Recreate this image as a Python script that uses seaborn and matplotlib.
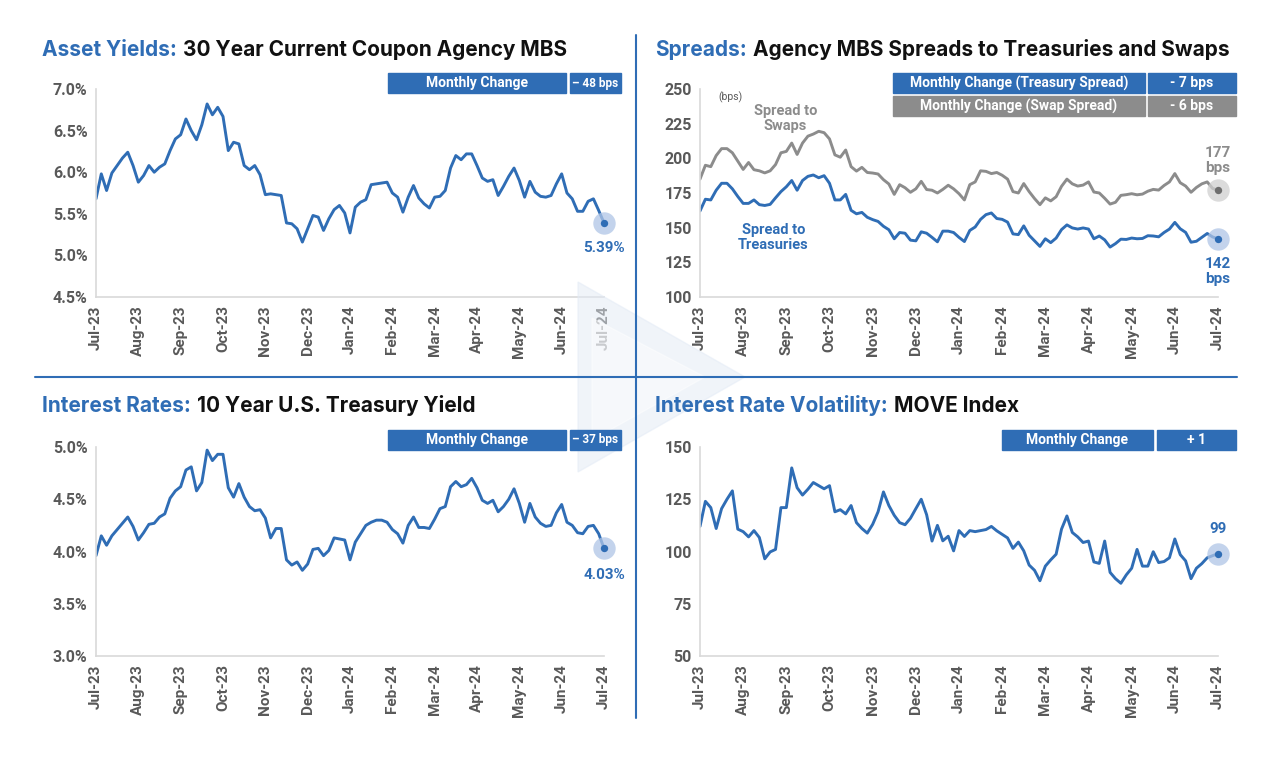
import numpy as np
import seaborn as sns
import matplotlib.pyplot as plt
from matplotlib.patches import Rectangle, Polygon

# month tick labels (8 readings per month)
months = ['Jul-23', 'Aug-23', 'Sep-23', 'Oct-23', 'Nov-23', 'Dec-23', 'Jan-24',
          'Feb-24', 'Mar-24', 'Apr-24', 'May-24', 'Jun-24', 'Jul-24']

mbs_yield = [5.68, 5.98, 5.78, 5.99, 6.08, 6.17, 6.24, 6.08,
             5.88, 5.96, 6.08, 6.00, 6.06, 6.10, 6.26, 6.40,
             6.45, 6.64, 6.50, 6.39, 6.57, 6.82, 6.69, 6.78,
             6.67, 6.26, 6.36, 6.34, 6.08, 6.03, 6.08, 5.97,
             5.73, 5.74, 5.73, 5.72, 5.39, 5.38, 5.32, 5.16,
             5.32, 5.48, 5.46, 5.30, 5.44, 5.55, 5.60, 5.51,
             5.27, 5.58, 5.64, 5.67, 5.85, 5.86, 5.87, 5.88,
             5.75, 5.70, 5.52, 5.70, 5.84, 5.69, 5.62, 5.57,
             5.70, 5.71, 5.78, 6.05, 6.20, 6.15, 6.22, 6.22,
             6.08, 5.93, 5.89, 5.91, 5.72, 5.83, 5.95, 6.05,
             5.90, 5.70, 5.89, 5.76, 5.71, 5.70, 5.72, 5.86,
             5.98, 5.75, 5.68, 5.53, 5.53, 5.65, 5.68, 5.54,
             5.39]

ust_spread = [162, 170.5, 170, 177, 182, 182, 178, 172.5,
              167.5, 167.5, 170, 166.6, 166, 166.8, 171.5, 176,
              179.5, 184, 177, 184, 187, 188, 186, 187.5,
              182, 170, 170, 174, 162.5, 160, 161, 157.5,
              155.8, 154.5, 151, 148.5, 142, 146.5, 146, 141,
              140.5, 147, 146, 143, 139.8, 147.5, 147.5, 146.5,
              143, 140, 148, 150.5, 156, 159.4, 160.6, 156.6,
              156, 154, 145.5, 145, 151.3, 144.5, 140.5, 136.5,
              142, 139.2, 142.5, 148.6, 152, 149.8, 149, 149.8,
              149, 142, 144, 141.2, 136, 138.5, 141.7, 141.5,
              142.5, 142, 142.2, 144.2, 144, 143.4, 146.5, 149,
              153.8, 149.2, 146.6, 139.5, 140.2, 143, 145.8, 143.3,
              142]

swap_spread = [185, 195, 194, 202, 207, 207, 204, 198,
               192, 197, 191.8, 191, 189.5, 191, 195.5, 204,
               205, 211, 202.8, 211, 216, 217.5, 219.5, 218.5,
               214, 202.5, 200.8, 206, 194, 190.8, 193.5, 189.8,
               189.4, 188.7, 184.6, 181.5, 174, 181, 178.8, 175.5,
               178, 183.4, 177.5, 177, 175, 177.6, 180.6, 178,
               174.5, 170, 181, 183, 191, 190.6, 189, 189.8,
               187.8, 185, 176, 175, 181.8, 176, 171, 166.6,
               171.5, 169.3, 172.3, 179.8, 185, 181.6, 180, 180.7,
               183, 175.7, 175, 171.2, 167, 168.3, 173.3, 173.8,
               174.5, 173.7, 174.2, 176.3, 177.6, 177.1, 180.4, 183,
               189, 182.4, 180, 175.5, 179, 181.6, 183, 178.3,
               177]

ust10 = [3.96, 4.15, 4.06, 4.15, 4.21, 4.27, 4.33, 4.24,
         4.11, 4.18, 4.26, 4.27, 4.33, 4.36, 4.51, 4.58,
         4.62, 4.78, 4.81, 4.58, 4.66, 4.97, 4.87, 4.93,
         4.93, 4.61, 4.52, 4.65, 4.52, 4.43, 4.39, 4.40,
         4.32, 4.13, 4.22, 4.22, 3.92, 3.87, 3.90, 3.82,
         3.88, 4.02, 4.03, 3.96, 4.01, 4.13, 4.12, 4.11,
         3.92, 4.09, 4.17, 4.25, 4.28, 4.30, 4.30, 4.28,
         4.21, 4.17, 4.08, 4.25, 4.33, 4.23, 4.23, 4.22,
         4.31, 4.41, 4.43, 4.62, 4.67, 4.62, 4.64, 4.70,
         4.61, 4.49, 4.46, 4.49, 4.38, 4.43, 4.50, 4.60,
         4.46, 4.28, 4.46, 4.33, 4.27, 4.24, 4.25, 4.37,
         4.45, 4.28, 4.25, 4.18, 4.17, 4.24, 4.25, 4.17,
         4.03]

move_idx = [112, 124, 121, 111, 120.5, 125, 129, 110.7,
            109.5, 107, 110, 106.7, 96.5, 99.8, 101, 121,
            121, 140, 130.5, 127, 129.8, 133, 131.5, 130,
            131.5, 119, 120, 118, 122, 113.8, 111, 108.8,
            113, 119, 128.5, 122, 117.3, 113.8, 112.8, 115.9,
            120.5, 125, 117.6, 105, 112.5, 105.1, 107.3, 100.3,
            110, 107.2, 110, 109.5, 110, 110.5, 112, 109.9,
            108.2, 106.5, 101.5, 104.5, 100.3, 93.5, 91, 86,
            93, 96, 98.7, 110.7, 117, 109.1, 107, 104.3,
            105, 95, 94.3, 105, 90, 87, 84.8, 88.8,
            92, 101, 93, 93, 99.9, 94.7, 95.2, 97,
            106, 98.5, 95.5, 87, 92, 94.2, 97, 98,
            99]

BLUE = '#2F6DB5'
GRAY = '#8C8C8C'
TXT = '#595959'
W, H = 1280, 768

sns.set_style('white')
plt.rcParams['font.family'] = ['Roboto', 'DejaVu Sans']

fig = plt.figure(figsize=(12.8, 7.68), dpi=100)


def rect(x0, y0, x1, y1):
    return [x0 / W, 1 - y1 / H, (x1 - x0) / W, (y1 - y0) / H]


# faint logo watermark behind everything
fig.patches.append(Polygon([(578 / W, 1 - 282 / H), (745 / W, 1 - 377 / H), (578 / W, 1 - 472 / H)],
                           closed=True, transform=fig.transFigure, color='#E2EAF5', alpha=0.5, zorder=0))
fig.patches.append(Polygon([(592 / W, 1 - 318 / H), (705 / W, 1 - 377 / H), (592 / W, 1 - 440 / H)],
                           closed=True, transform=fig.transFigure, color='white', alpha=0.45, zorder=0))

# dividers
fig.add_artist(plt.Line2D([636 / W, 636 / W], [1 - 35 / H, 1 - 718 / H], color=BLUE, lw=1.5))
fig.add_artist(plt.Line2D([35 / W, 1237 / W], [1 - 377 / H, 1 - 377 / H], color=BLUE, lw=1.5))


def style(ax, ylim, yticks, fmt):
    ax.set_xlim(0, 96)
    ax.set_ylim(*ylim)
    ax.set_xticks(np.arange(0, 97, 8))
    ax.set_xticklabels(months, rotation=90, fontsize=11, color=TXT, fontweight='bold')
    ax.set_yticks(yticks)
    ax.set_yticklabels([fmt.format(v) for v in yticks], fontsize=11.5, fontweight='bold', color=TXT)
    ax.tick_params(length=0, pad=6)
    for s in ['top', 'right']:
        ax.spines[s].set_visible(False)
    for s in ['left', 'bottom']:
        ax.spines[s].set_color('#D9D9D9')
        ax.spines[s].set_linewidth(1.2)
    ax.set_xlabel('')
    ax.set_ylabel('')
    ax.patch.set_alpha(0)


def end_dot(ax, vals, color, halo):
    x = len(vals) - 1
    ax.scatter([x], [vals[-1]], s=260, color=halo, alpha=0.75, zorder=3, clip_on=False, lw=0)
    ax.scatter([x], [vals[-1]], s=28, color=color, zorder=4, clip_on=False, lw=0)


def title(x, y, blue, black):
    t1 = fig.text(x / W, 1 - y / H, blue, color=BLUE, fontsize=15, fontweight='bold',
                  family=['Inter', 'DejaVu Sans'], va='center')
    fig.axes[0].annotate(black, xy=(1, 0.5), xycoords=t1, xytext=(6, 0), textcoords='offset pixels',
                         va='center', ha='left', color='#111111',
                         fontsize=15, fontweight='bold', family=['Inter', 'DejaVu Sans'])


def box(x0, y0, x1, y1, text, color, size=10):
    fig.patches.append(Rectangle((x0 / W, 1 - y1 / H), (x1 - x0) / W, (y1 - y0) / H,
                                 transform=fig.transFigure, color=color, zorder=5))
    fig.text((x0 + x1) / 2 / W, 1 - (y0 + y1) / 2 / H, text, ha='center', va='center',
             color='white', fontsize=size, fontweight='bold', zorder=6)


ax1 = fig.add_axes(rect(96, 89, 604, 297))
ax2 = fig.add_axes(rect(700, 89, 1218, 297))
ax3 = fig.add_axes(rect(96, 447, 604, 656))
ax4 = fig.add_axes(rect(700, 447, 1218, 656))

# Asset yields
sns.lineplot(x=np.arange(len(mbs_yield)), y=mbs_yield, ax=ax1, color=BLUE, lw=2.1)
style(ax1, (4.5, 7.0), np.arange(4.5, 7.01, 0.5), '{:.1f}%')
end_dot(ax1, mbs_yield, BLUE, '#AFC5E6')
ax1.annotate('5.39%', xy=(len(mbs_yield) - 1, mbs_yield[-1]), xytext=(0, -25), textcoords='offset pixels',
             ha='center', va='center', color=BLUE, fontsize=11, fontweight='bold', annotation_clip=False)

# Spreads
sns.lineplot(x=np.arange(len(swap_spread)), y=swap_spread, ax=ax2, color=GRAY, lw=2.1)
sns.lineplot(x=np.arange(len(ust_spread)), y=ust_spread, ax=ax2, color=BLUE, lw=2.1)
style(ax2, (100, 250), np.arange(100, 251, 25), '{:.0f}')
end_dot(ax2, swap_spread, '#6E6E6E', '#CFCFCF')
end_dot(ax2, ust_spread, BLUE, '#AFC5E6')
ax2.annotate('177\nbps', xy=(len(swap_spread) - 1, swap_spread[-1]), xytext=(0, 30), textcoords='offset pixels',
             ha='center', va='center', color=GRAY, fontsize=11, fontweight='bold', linespacing=1.1,
             annotation_clip=False)
ax2.annotate('142\nbps', xy=(len(ust_spread) - 1, ust_spread[-1]), xytext=(0, -33), textcoords='offset pixels',
             ha='center', va='center', color=BLUE, fontsize=11, fontweight='bold', linespacing=1.1,
             annotation_clip=False)
ax2.text(0.035, 0.96, '(bps)', transform=ax2.transAxes, fontsize=7.5, color=TXT, va='center')
ax2.text(0.165, 0.86, 'Spread to\nSwaps', transform=ax2.transAxes, fontsize=10.5, color=GRAY,
         fontweight='bold', ha='center', va='center', linespacing=1.1)
ax2.text(0.142, 0.285, 'Spread to\nTreasuries', transform=ax2.transAxes, fontsize=10.5, color=BLUE,
         fontweight='bold', ha='center', va='center', linespacing=1.1)

# 10Y Treasury
sns.lineplot(x=np.arange(len(ust10)), y=ust10, ax=ax3, color=BLUE, lw=2.1)
style(ax3, (3.0, 5.0), np.arange(3.0, 5.01, 0.5), '{:.1f}%')
end_dot(ax3, ust10, BLUE, '#AFC5E6')
ax3.annotate('4.03%', xy=(len(ust10) - 1, ust10[-1]), xytext=(0, -27), textcoords='offset pixels',
             ha='center', va='center', color=BLUE, fontsize=11, fontweight='bold', annotation_clip=False)

# MOVE
sns.lineplot(x=np.arange(len(move_idx)), y=move_idx, ax=ax4, color=BLUE, lw=2.1)
style(ax4, (50, 150), np.arange(50, 151, 25), '{:.0f}')
end_dot(ax4, move_idx, BLUE, '#AFC5E6')
ax4.annotate('99', xy=(len(move_idx) - 1, move_idx[-1]), xytext=(0, 25), textcoords='offset pixels',
             ha='center', va='center', color=BLUE, fontsize=11, fontweight='bold', annotation_clip=False)

title(42, 50, 'Asset Yields:', '30 Year Current Coupon Agency MBS')
title(655, 50, 'Spreads:', 'Agency MBS Spreads to Treasuries and Swaps')
title(42, 406, 'Interest Rates:', '10 Year U.S. Treasury Yield')
title(655, 406, 'Interest Rate Volatility:', 'MOVE Index')

box(388, 73, 566, 93, 'Monthly Change', BLUE)
box(570, 73, 621, 93, '– 48 bps', BLUE, 8.5)
box(893, 73, 1145, 93, 'Monthly Change (Treasury Spread)', BLUE)
box(1148, 73, 1236, 93, '- 7 bps', BLUE)
box(893, 96, 1145, 116, 'Monthly Change (Swap Spread)', GRAY)
box(1148, 96, 1236, 116, '- 6 bps', GRAY)
box(388, 430, 566, 450, 'Monthly Change', BLUE)
box(570, 430, 621, 450, '– 37 bps', BLUE, 8.5)
box(1002, 430, 1153, 450, 'Monthly Change', BLUE)
box(1157, 430, 1236, 450, '+ 1', BLUE)

fig.savefig('out.png', dpi=100, facecolor='white')
